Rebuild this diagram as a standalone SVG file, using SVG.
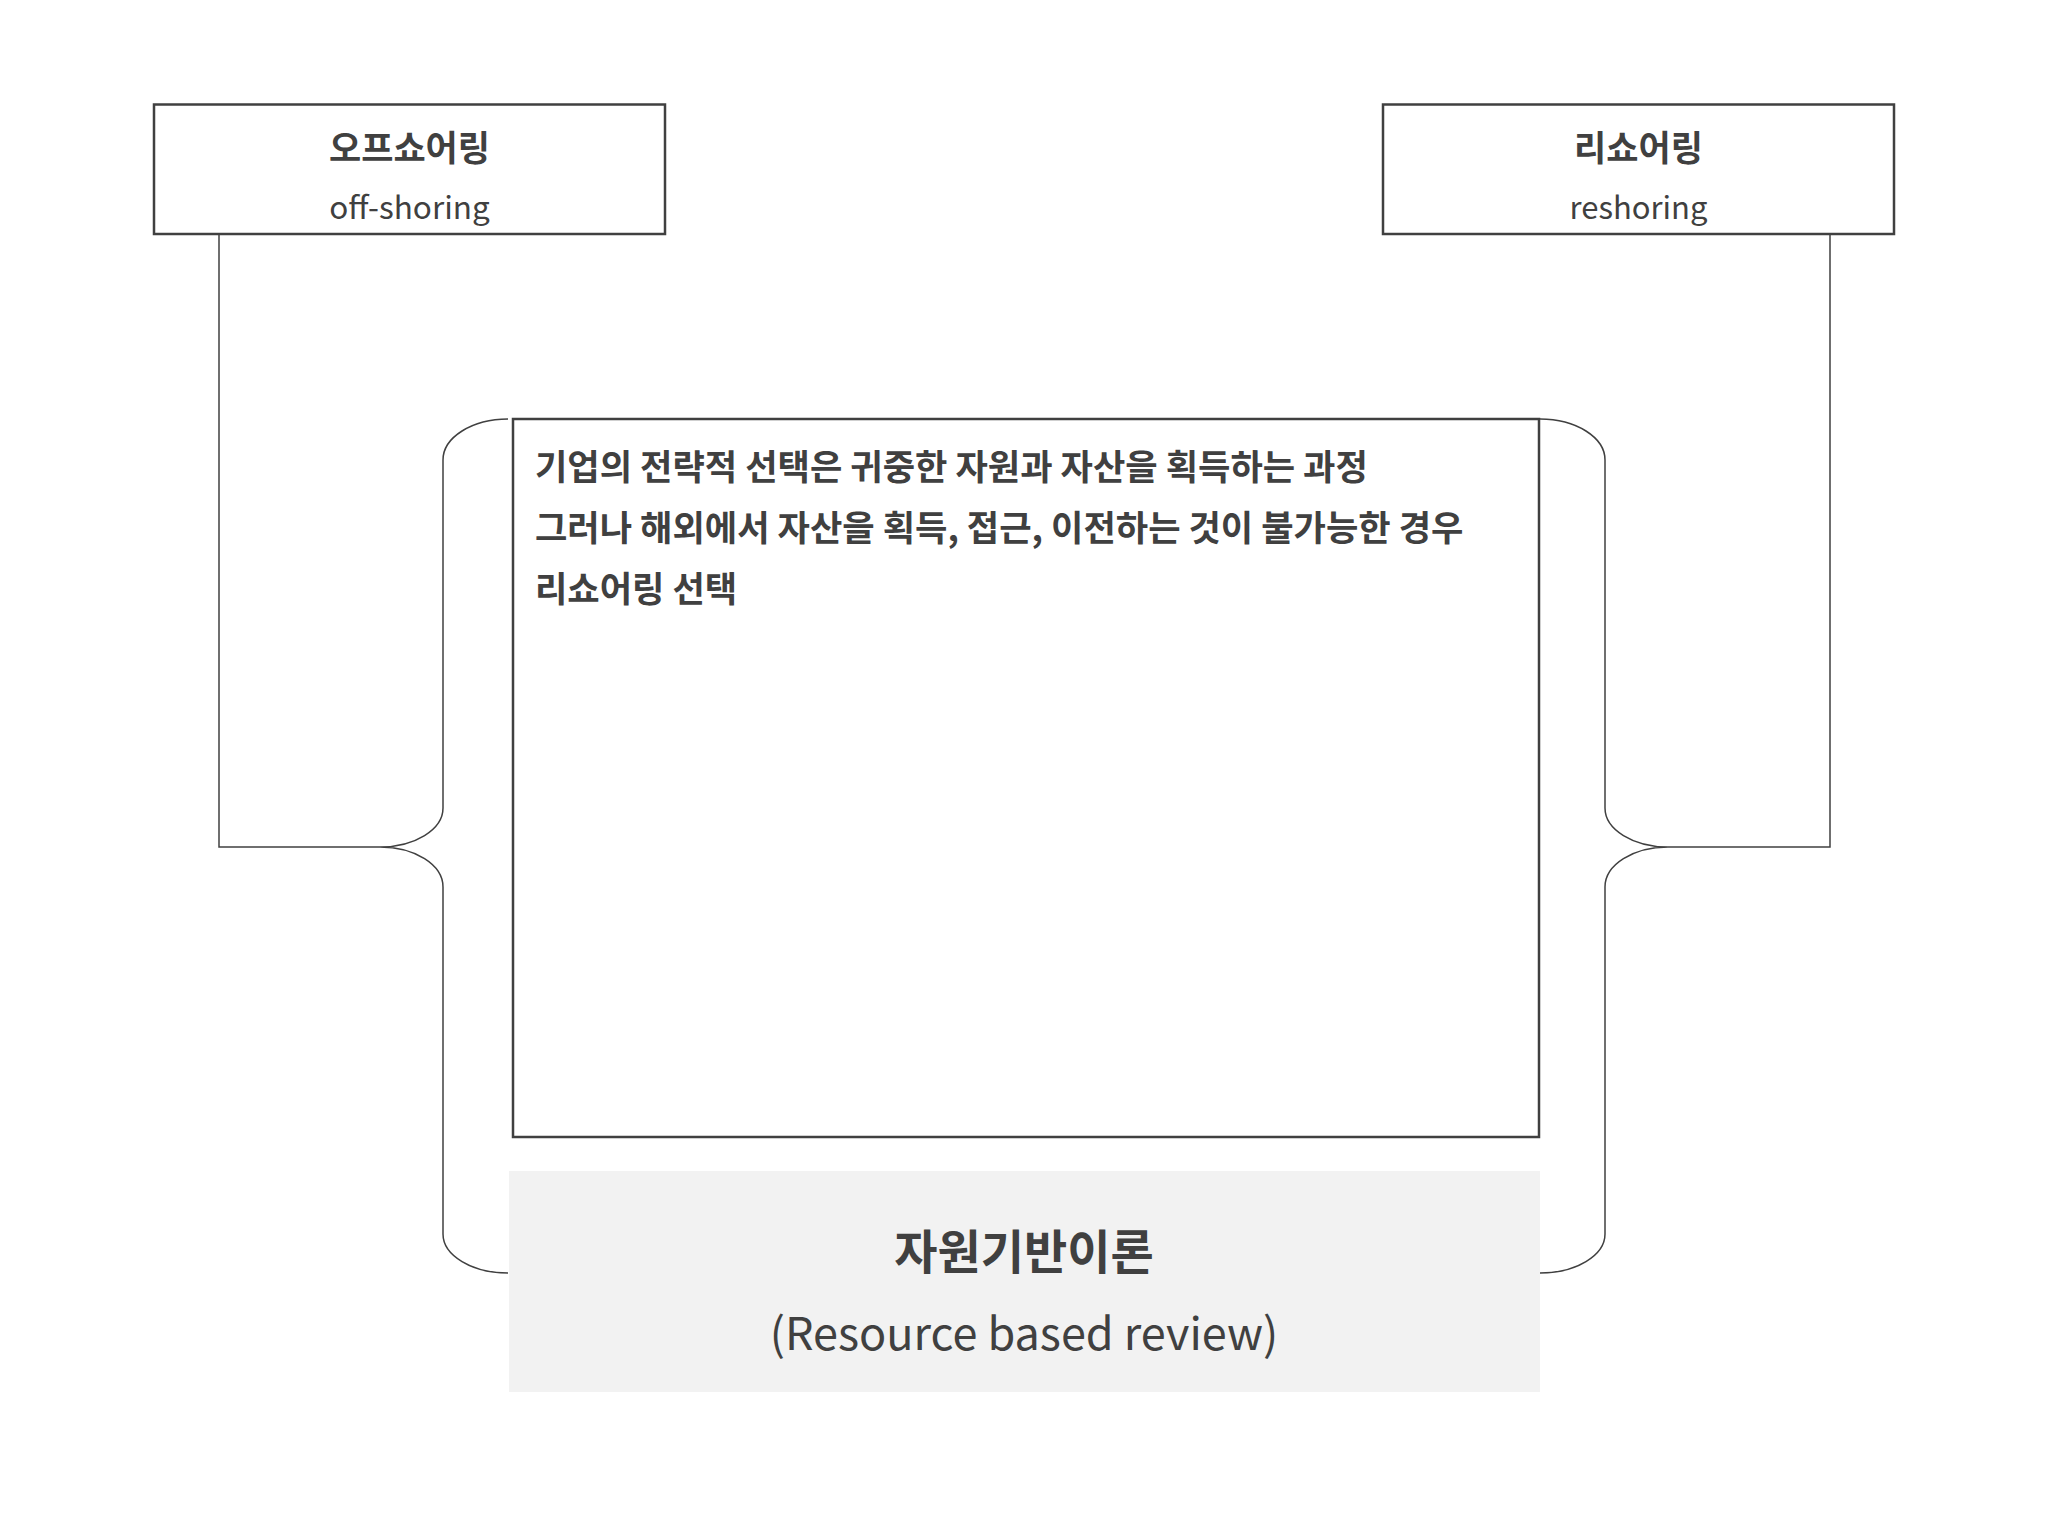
<svg xmlns="http://www.w3.org/2000/svg" width="2048" height="1536" viewBox="0 0 2048 1536">
<style>
.box{fill:#ffffff;stroke:#404040;stroke-width:2.5}
.ln{fill:none;stroke:#404040;stroke-width:1.5}
.t{font-family:"Noto Sans CJK KR","Noto Sans",sans-serif;fill:#404040}
.kb{font-weight:700}
.c{text-anchor:middle}
</style>
<rect width="2048" height="1536" fill="#ffffff"/>
<g id="connectors">
<path class="ln" d="M219,234 L219,847 L380,847"/>
<path class="ln" d="M1830,234 L1830,847 L1668,847"/>
<path class="ln" d="M508,419 A65,41 0 0 0 443,460 L443,808 A63,39 0 0 1 380,847 A63,40 0 0 1 443,887 L443,1234 A65,39 0 0 0 508,1273"/>
<path class="ln" d="M1540,419 A65,41 0 0 1 1605,460 L1605,808 A63,39 0 0 0 1668,847 A63,40 0 0 0 1605,887 L1605,1234 A65,39 0 0 1 1540,1273"/>
</g>
<g id="offshoring">
<rect class="box" x="154" y="104.5" width="511" height="129.5"/>
<text class="t kb c" x="409.5" y="161" font-size="35">오프쇼어링</text>
<text class="t c" x="409.5" y="219" font-size="31.5">off-shoring</text>
</g>
<g id="reshoring">
<rect class="box" x="1383" y="104.5" width="511" height="129.5"/>
<text class="t kb c" x="1638.5" y="161" font-size="35">리쇼어링</text>
<text class="t c" x="1638.5" y="219" font-size="31">reshoring</text>
</g>
<g id="content">
<rect class="box" x="513" y="419" width="1026" height="718"/>
<text class="t kb" x="535" y="480" font-size="35.2">기업의 전략적 선택은 귀중한 자원과 자산을 획득하는 과정</text>
<text class="t kb" x="535" y="541" font-size="35.2">그러나 해외에서 자산을 획득, 접근, 이전하는 것이 불가능한 경우</text>
<text class="t kb" x="535" y="602" font-size="35.2">리쇼어링 선택</text>
</g>
<g id="theory">
<rect x="509" y="1171" width="1031" height="221" fill="#f2f2f2"/>
<text class="t kb c" x="1024" y="1269" font-size="47">자원기반이론</text>
<text class="t c" x="1024" y="1350" font-size="45">(Resource based review)</text>
</g>
</svg>
